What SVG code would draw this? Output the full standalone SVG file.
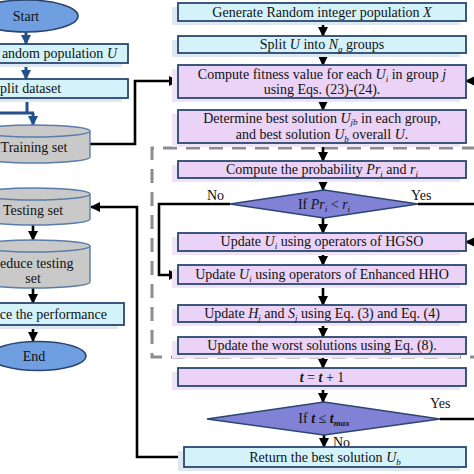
<svg xmlns="http://www.w3.org/2000/svg" width="474" height="474" viewBox="0 0 474 474">
<style>
.c{fill:#d4f2fa;stroke:#2b4670;stroke-width:1.8}
.p{fill:#ead3f6;stroke:#2b4670;stroke-width:1.8}
.cs{fill:#dde8f0}
.ps{fill:#efe3f6}
.d{fill:#8181d6;stroke:#2b4670;stroke-width:1.6}
.e{fill:#6f9fe0;stroke:#2b4670;stroke-width:1.6}
.cy{fill:#c9c9c9;stroke:#5a7ca8;stroke-width:1.4}
text{font-family:"Liberation Serif","Times New Roman",serif;font-size:14px;fill:#111}
.m{text-anchor:middle}
.i{font-style:italic}
.s{font-size:9px;font-style:italic}
.k{fill:none;stroke:#000;stroke-width:2.6}
.b{fill:none;stroke:#22508a;stroke-width:3}
.dash{fill:none;stroke:#8c8c8c;stroke-width:3;stroke-dasharray:14 9}
</style>
<defs>
<marker id="ak" markerUnits="userSpaceOnUse" markerWidth="10" markerHeight="10" viewBox="0 0 10 10" refX="9" refY="5" orient="auto"><path d="M0,0 L10,5 L0,10 z" fill="#000"/></marker>
<marker id="ab" markerUnits="userSpaceOnUse" markerWidth="10" markerHeight="10" viewBox="0 0 10 10" refX="9" refY="5" orient="auto"><path d="M0,0 L10,5 L0,10 z" fill="#22508a"/></marker>
</defs>

<path class="dash" d="M476 148 L152 148 L152 357 L476 357"/>

<g id="connectors">
<path class="b" d="M26 32 V44" marker-end="url(#ab)"/>
<path class="b" d="M26 63 V79" marker-end="url(#ab)"/>
<path class="b" d="M27 98 V113 M-5 113 H34 M33 113 V125" marker-end="url(#ab)"/>
<path class="k" d="M33 225 V240" marker-end="url(#ak)"/>
<path class="k" d="M33 288 V303" marker-end="url(#ak)"/>
<path class="k" d="M33 325 V341" marker-end="url(#ak)"/>
<path class="k" d="M90 144 H135 V81 H178" marker-end="url(#ak)"/>
<path class="k" d="M184 457 H137 V207 H91" marker-end="url(#ak)"/>
<path class="k" d="M323 21 V36" marker-end="url(#ak)"/>
<path class="k" d="M323 53 V65" marker-end="url(#ak)"/>
<path class="k" d="M323 98 V110" marker-end="url(#ak)"/>
<path class="k" d="M323 143 V161" marker-end="url(#ak)"/>
<path class="k" d="M323 178 V190" marker-end="url(#ak)"/>
<path class="k" d="M323 218 V233" marker-end="url(#ak)"/>
<path class="k" d="M323 251 V265" marker-end="url(#ak)"/>
<path class="k" d="M323 284 V305" marker-end="url(#ak)"/>
<path class="k" d="M323 322 V337" marker-end="url(#ak)"/>
<path class="k" d="M323 354 V368" marker-end="url(#ak)"/>
<path class="k" d="M323 386 V402" marker-end="url(#ak)"/>
<path class="k" d="M324 435 V447" marker-end="url(#ak)"/>
<path class="k" d="M230 204 H159 V275 H178" marker-end="url(#ak)"/>
<path class="k" d="M418 204 H476"/>
<path class="k" d="M476 242 H466" marker-end="url(#ak)"/>
<path class="k" d="M476 81 H466" marker-end="url(#ak)"/>
<path class="k" d="M440 419 H476"/>
<text x="207" y="200">No</text>
<text x="411" y="200">Yes</text>
<text x="430" y="408">Yes</text>
<text x="333" y="447">No</text>
</g>

<g id="start">
<ellipse class="e" cx="26" cy="16" rx="52" ry="16"/>
<text class="m" x="26" y="21">Start</text>
</g>
<g id="random-population">
<rect class="cs" x="-66" y="48" width="188" height="19"/>
<rect class="c" x="-60" y="44" width="188" height="19"/>
<text x="117" y="58" text-anchor="end">andom population <tspan class="i">U</tspan></text>
</g>
<g id="split-dataset">
<rect class="cs" x="-66" y="83" width="188" height="19"/>
<rect class="c" x="-60" y="79" width="188" height="19"/>
<text x="0" y="93">plit dataset</text>
</g>
<g id="training-set">
<path class="cy" d="M-22 131 V157 A56 6 0 0 0 90 157 V131"/>
<ellipse class="cy" cx="34" cy="131" rx="56" ry="6"/>
<text class="m" x="34" y="152">Training set</text>
</g>
<g id="testing-set">
<path class="cy" d="M-22 194 V219 A56 6 0 0 0 90 219 V194"/>
<ellipse class="cy" cx="34" cy="194" rx="56" ry="6"/>
<text class="m" x="33" y="215">Testing set</text>
</g>
<g id="reduce-testing-set">
<path class="cy" d="M-22 246 V282 A56 6 0 0 0 90 282 V246"/>
<ellipse class="cy" cx="34" cy="246" rx="56" ry="6"/>
<text x="0" y="268">educe testing</text>
<text class="m" x="33" y="283">set</text>
</g>
<g id="performance">
<rect class="cs" x="-66" y="307" width="184" height="22"/>
<rect class="c" x="-60" y="303" width="184" height="22"/>
<text x="107" y="319" text-anchor="end">ce the performance</text>
</g>
<g id="end">
<ellipse class="e" cx="38" cy="356" rx="48" ry="14.5"/>
<text class="m" x="34" y="361">End</text>
</g>

<g id="generate">
<rect class="cs" x="172" y="7" width="288" height="18"/>
<rect class="c" x="178" y="3" width="288" height="18"/>
<text class="m" x="322" y="17">Generate Random integer population <tspan class="i">X</tspan></text>
</g>
<g id="split-groups">
<rect class="cs" x="172" y="40" width="288" height="17"/>
<rect class="c" x="178" y="36" width="288" height="17"/>
<text class="m" x="322" y="49">Split <tspan class="i">U</tspan> into <tspan class="i">N</tspan><tspan class="s" dy="2.5">g</tspan><tspan dy="-2.5"> groups</tspan></text>
</g>
<g id="compute-fitness">
<rect class="ps" x="172" y="69" width="288" height="33"/>
<rect class="p" x="178" y="65" width="288" height="33"/>
<text class="m" x="322" y="79">Compute fitness value for each <tspan class="i">U</tspan><tspan class="s" dy="2.5">i</tspan><tspan dy="-2.5"> in group </tspan><tspan class="i">j</tspan></text>
<text class="m" x="322" y="94">using Eqs. (23)-(24).</text>
</g>
<g id="determine-best">
<rect class="ps" x="172" y="114" width="288" height="33"/>
<rect class="p" x="178" y="110" width="288" height="33"/>
<text class="m" x="322" y="123">Determine best solution <tspan class="i">U</tspan><tspan class="s" dy="2">jb</tspan><tspan dy="-2"> in each group,</tspan></text>
<text class="m" x="322" y="139">and best solution <tspan class="i">U</tspan><tspan class="s" dy="2.5">b</tspan><tspan dy="-2.5">  overall  </tspan><tspan class="i">U</tspan>.</text>
</g>
<g id="compute-probability">
<rect class="ps" x="172" y="165" width="288" height="17"/>
<rect class="p" x="178" y="161" width="288" height="17"/>
<text class="m" x="322" y="174">Compute the probability <tspan class="i">Pr</tspan><tspan class="s" dy="2.5">i</tspan><tspan dy="-2.5"> and </tspan><tspan class="i">r</tspan><tspan class="s" dy="2.5">i</tspan></text>
</g>
<g id="if-pr">
<polygon class="d" points="324,190 418,204 324,218 230,204"/>
<text class="m" x="324" y="209">If <tspan class="i">Pr</tspan><tspan class="s" dy="2.5">i</tspan><tspan dy="-2.5"> &lt; </tspan><tspan class="i">r</tspan><tspan class="s" dy="2.5">i</tspan></text>
</g>
<g id="update-hgso">
<rect class="ps" x="172" y="237" width="288" height="18"/>
<rect class="p" x="178" y="233" width="288" height="18"/>
<text class="m" x="322" y="246">Update <tspan class="i">U</tspan><tspan class="s" dy="2.5">i</tspan><tspan dy="-2.5"> using operators of HGSO</tspan></text>
</g>
<g id="update-hho">
<rect class="ps" x="172" y="269" width="288" height="19"/>
<rect class="p" x="178" y="265" width="288" height="19"/>
<text class="m" x="322" y="279">Update <tspan class="i">U</tspan><tspan class="s" dy="2.5">i</tspan><tspan dy="-2.5"> using operators of Enhanced HHO</tspan></text>
</g>
<g id="update-hs">
<rect class="ps" x="172" y="309" width="288" height="17"/>
<rect class="p" x="178" y="305" width="288" height="17"/>
<text class="m" x="322" y="318">Update <tspan class="i">H</tspan><tspan class="s" dy="2.5">j</tspan><tspan dy="-2.5"> and </tspan><tspan class="i">S</tspan><tspan class="s" dy="2.5">j</tspan><tspan dy="-2.5"> using Eq. (3) and Eq. (4)</tspan></text>
</g>
<g id="update-worst">
<rect class="ps" x="172" y="341" width="288" height="17"/>
<rect class="p" x="178" y="337" width="288" height="17"/>
<text class="m" x="322" y="350">Update the worst solutions using Eq. (8).</text>
</g>
<g id="increment-t">
<rect class="ps" x="172" y="372" width="288" height="18"/>
<rect class="p" x="178" y="368" width="288" height="18"/>
<text class="m" x="322" y="382"><tspan class="i" font-weight="bold">t</tspan> = <tspan class="i" font-weight="bold">t</tspan> + 1</text>
</g>
<g id="if-t">
<polygon class="d" points="324,402 440,419 324,435 207,419"/>
<text class="m" x="324" y="423">If <tspan class="i" font-weight="bold">t</tspan> ≤ <tspan class="i" font-weight="bold">t</tspan><tspan class="s" font-weight="bold" dy="2.5">max</tspan></text>
</g>
<g id="return-best">
<rect class="cs" x="178" y="451" width="282" height="20"/>
<rect class="c" x="184" y="447" width="282" height="20"/>
<text class="m" x="325" y="462">Return the best solution <tspan class="i">U</tspan><tspan class="s" dy="2.5">b</tspan></text>
</g>
</svg>
